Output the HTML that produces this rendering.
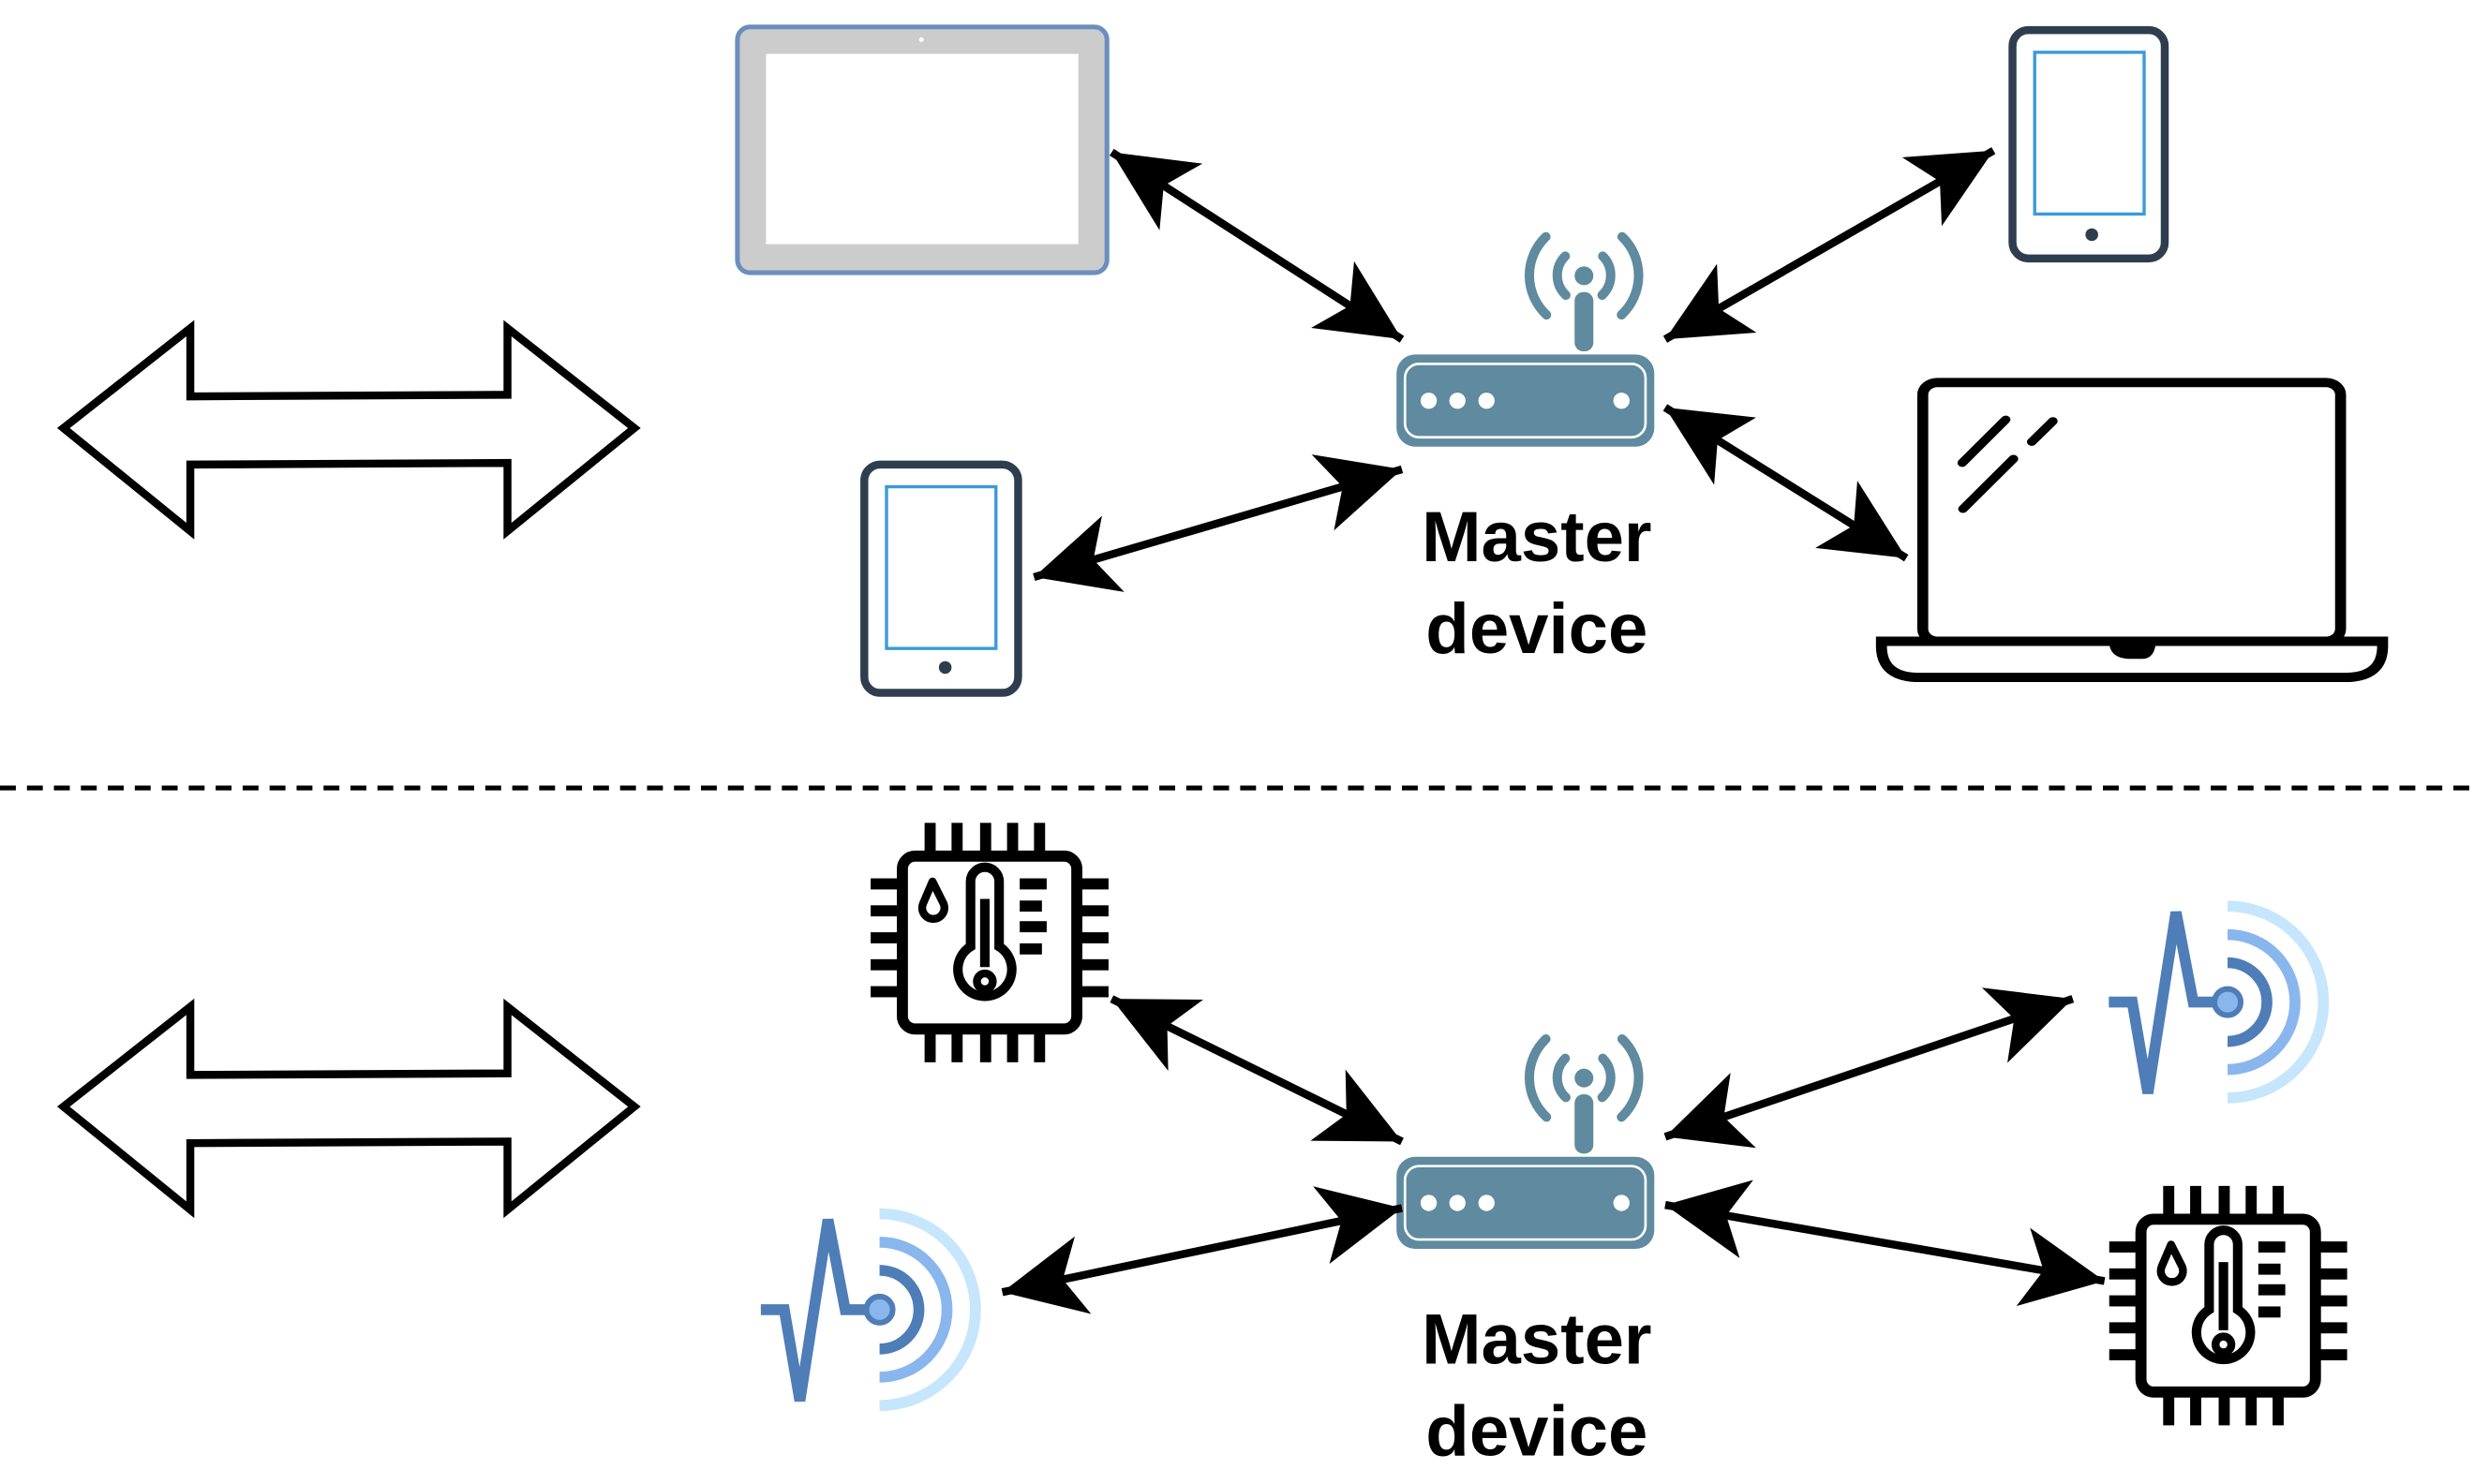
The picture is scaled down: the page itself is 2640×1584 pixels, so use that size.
<!DOCTYPE html>
<html><head><meta charset="utf-8"><style>html,body{margin:0;padding:0;background:#fff}svg{display:block}</style></head>
<body>
<svg width="2640" height="1584" viewBox="0 0 1560 936" xmlns="http://www.w3.org/2000/svg">
<defs>
<marker id="ah" markerUnits="userSpaceOnUse" markerWidth="60" markerHeight="60" viewBox="-55 -30 60 60" refX="0" refY="0" orient="auto-start-reverse">
<path d="M0,0 L-52,-25 L-39,0 L-52,25 Z" fill="#000"/>
</marker>
<g id="router">
<rect x="270" y="535" width="825" height="295" rx="60" fill="#5f8a9f"/>
<rect x="297" y="565" width="770" height="235" rx="45" fill="none" stroke="#fff" stroke-width="8"/>
<circle cx="373" cy="683" r="26" fill="#fff"/><circle cx="465" cy="683" r="26" fill="#fff"/><circle cx="558" cy="683" r="26" fill="#fff"/><circle cx="990" cy="683" r="26" fill="#fff"/>
<rect x="840" y="335" width="60" height="190" rx="28" fill="#5f8a9f"/>
<circle cx="870" cy="283" r="30" fill="#5f8a9f"/>
<g fill="none" stroke="#5f8a9f" stroke-width="30" stroke-linecap="round">
<path d="M810,220 A87,87 0 0 0 812,345"/><path d="M930,220 A87,87 0 0 1 928,345"/>
<path d="M748,158 A172,172 0 0 0 750,408"/><path d="M992,158 A172,172 0 0 1 990,408"/>
</g>
</g>
<g id="chip">
<g fill="#000">
<rect x="583" y="519" width="7" height="20"/><rect x="600" y="519" width="7" height="20"/><rect x="618" y="519" width="7" height="20"/><rect x="635" y="519" width="7" height="20"/><rect x="652" y="519" width="7" height="20"/>
<rect x="583" y="650" width="7" height="20"/><rect x="600" y="650" width="7" height="20"/><rect x="618" y="650" width="7" height="20"/><rect x="635" y="650" width="7" height="20"/><rect x="652" y="650" width="7" height="20"/>
<rect x="549" y="554" width="20" height="7"/><rect x="549" y="571" width="20" height="7"/><rect x="549" y="588" width="20" height="7"/><rect x="549" y="605" width="20" height="7"/><rect x="549" y="622" width="20" height="7"/>
<rect x="679" y="554" width="20" height="7"/><rect x="679" y="571" width="20" height="7"/><rect x="679" y="588" width="20" height="7"/><rect x="679" y="605" width="20" height="7"/><rect x="679" y="622" width="20" height="7"/>
<rect x="643" y="554" width="17" height="7"/><rect x="643" y="568" width="14" height="7"/><rect x="643" y="581" width="17" height="7"/><rect x="643" y="595" width="14" height="7"/>
</g>
<rect x="569" y="540" width="110" height="109" rx="8" fill="none" stroke="#000" stroke-width="7"/>
<path d="M612,597 L612,556 A9,9 0 0 1 630,556 L630,597 A17,17 0 1 1 612,597 Z" fill="none" stroke="#000" stroke-width="6"/>
<line x1="621" y1="567" x2="621" y2="610" stroke="#000" stroke-width="6"/>
<circle cx="621" cy="619" r="5" fill="none" stroke="#000" stroke-width="5"/>
<path d="M588,556 L582,570 A7,7 0 1 0 595,570 Z" fill="none" stroke="#000" stroke-width="5" stroke-linejoin="round"/>
</g>
<g id="wave">
<path d="M150,388 L225,388 L275,680 L365,100 L420,388 L485,388" fill="none" stroke="#4e7db8" stroke-width="35"/>
<circle cx="530" cy="388" r="42" fill="#8ab6ee" stroke="#4e7db8" stroke-width="18"/>
<g fill="none" stroke-width="35">
<path d="M530,262 A126,126 0 0 1 530,514" stroke="#4e7db8"/>
<path d="M530,172 A216,216 0 0 1 530,604" stroke="#8ab6ee"/>
<path d="M530,81 A307,307 0 0 1 530,695" stroke="#c5e6fc"/>
</g>
</g>
</defs>

<g fill="none" stroke="#000" stroke-width="5" stroke-linejoin="miter">
<polygon points="40,270 120,207 120,250 320,249 320,207 400,270 320,335 320,292 120,293 120,335"/>
<polygon points="40,698 120,635 120,678 320,677 320,635 400,698 320,763 320,720 120,721 120,763"/>
</g>

<line x1="0" y1="497" x2="1560" y2="497" stroke="#000" stroke-width="3" stroke-dasharray="10,7"/>

<rect x="465" y="17" width="233" height="155" rx="8" fill="#ccc" stroke="#6c8ebf" stroke-width="3"/>
<rect x="483" y="34" width="197" height="120" fill="#fff"/>
<circle cx="581" cy="25" r="1.5" fill="#fff"/>

<rect x="1269" y="19" width="96" height="144" rx="10" fill="#fff" stroke="#2f3e4e" stroke-width="5"/>
<rect x="1283" y="33" width="69" height="102" fill="#fff" stroke="#3b9ad9" stroke-width="2"/>
<circle cx="1319" cy="148" r="4" fill="#2f3e4e"/>
<rect x="545" y="293" width="97" height="144" rx="10" fill="#fff" stroke="#2f3e4e" stroke-width="5"/>
<rect x="559" y="307" width="69" height="102" fill="#fff" stroke="#3b9ad9" stroke-width="2"/>
<circle cx="596" cy="421" r="4" fill="#2f3e4e"/>

<g transform="translate(1164,228) scale(0.2305,0.195)">
<rect x="210" y="68" width="1143" height="837" rx="40" fill="none" stroke="#000" stroke-width="30"/>
<path d="M97,905 L1468,905 L1468,920 Q1468,1022 1365,1022 L200,1022 Q97,1022 97,920 Z" fill="#fff" stroke="#000" stroke-width="30"/>
<path d="M720,905 Q720,962 780,962 L810,962 Q845,962 848,905 Z" fill="#000"/>
<g stroke="#000" stroke-width="26" stroke-linecap="round">
<line x1="318" y1="328" x2="437" y2="188"/><line x1="508" y1="260" x2="566" y2="193"/><line x1="320" y1="477" x2="458" y2="315"/>
</g>
</g>

<g transform="translate(827.4,118.2) scale(0.197)"><use href="#router"/></g>
<g transform="translate(827.4,624.2) scale(0.197)"><use href="#router"/></g>

<use href="#chip"/>
<g transform="translate(781,229)"><use href="#chip"/></g>

<g transform="translate(1300.2,555.6) scale(0.197)"><use href="#wave"/></g>
<g transform="translate(450.2,749.6) scale(0.197)"><use href="#wave"/></g>

<g font-family="Liberation Sans, Arial, sans-serif" font-weight="bold" font-size="45" text-anchor="middle" fill="#000">
<text x="969" y="354">Master</text><text x="969" y="412">device</text>
<text x="969" y="860">Master</text><text x="969" y="918">device</text>
</g>

<g stroke="#000" stroke-width="5" fill="none" marker-start="url(#ah)" marker-end="url(#ah)">
<line x1="701" y1="96" x2="884" y2="214"/>
<line x1="1257" y1="95" x2="1050" y2="214"/>
<line x1="884" y1="296" x2="652" y2="364"/>
<line x1="1050" y1="257" x2="1202" y2="352"/>
<line x1="701" y1="630" x2="884" y2="720"/>
<line x1="1307" y1="630" x2="1050" y2="717"/>
<line x1="884" y1="762" x2="632" y2="815"/>
<line x1="1050" y1="760" x2="1327" y2="808"/>
</g>
</svg>
</body></html>
